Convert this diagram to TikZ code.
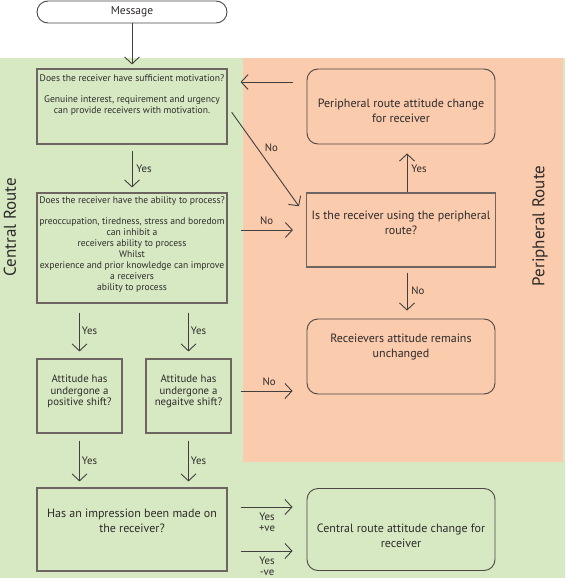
\documentclass[tikz,border=0pt]{standalone}
\usepackage{fontspec}
\setmainfont{PT Sans}
\usetikzlibrary{arrows.meta}
\definecolor{centralgreen}{HTML}{D7E9C3}
\definecolor{periphorange}{HTML}{FACBAD}
\definecolor{boxline}{HTML}{6E6562}
\definecolor{inkgray}{HTML}{2E2A2A}
\tikzstyle{question} = [rectangle, draw=boxline, line width=1.1pt, text=inkgray, align=center, inner sep=2pt]
\tikzstyle{terminal} = [rectangle, rounded corners=11pt, draw=boxline!70!black, line width=0.9pt, text=inkgray, align=center, inner sep=2pt]
\tikzstyle{arrow} = [draw=inkgray!90, line width=0.9pt, -{Straight Barb[length=7pt,width=15pt]}]
\tikzstyle{lbl} = [text=inkgray, font=\fontsize{10.8}{11}\selectfont, inner sep=2pt, align=center]
\tikzstyle{route} = [text=inkgray, font=\fontsize{17}{20}\selectfont, rotate=90]

\begin{document}
\begin{tikzpicture}[x=1pt, y=-1pt]
\useasboundingbox (0,0) rectangle (565,578);

%% BACKGROUND

\fill[centralgreen] (0,58) rectangle (565,578);
\fill[periphorange] (243,58) rectangle (563,462);
\node (central_label) [route] at (10,227) {Central Route};
\node (periph_label) [route] at (540,226) {Peripheral Route};

%% NODES

\node (msg) [terminal, minimum width=190pt, minimum height=22pt, font=\fontsize{11.5}{13}\selectfont] at (132,12) {Message};
\node (motiv) [question, below of=msg, node distance=94.5pt, minimum width=190pt, minimum height=75pt, text depth=25pt, font=\fontsize{9.6}{11}\selectfont] {Does the receiver have sufficient motivation?\\[10pt]Genuine interest, requirement and urgency\\can provide receivers with motivation.};
\node (ability) [question, below of=motiv, node distance=141.5pt, minimum width=190pt, minimum height=110pt, text depth=8pt, font=\fontsize{9.6}{11}\selectfont] {Does the receiver have the ability to process?\\[10pt]preoccupation, tiredness, stress and boredom\\can inhibit a\\receivers ability to process\\Whilst\\experience and prior knowledge can improve\\a receivers\\ability to process};
\node (pos) [question, below of=ability, node distance=148pt, xshift=-52.5pt, minimum width=85pt, minimum height=74pt, text depth=11pt, font=\fontsize{10.8}{11.5}\selectfont] {Attitude has\\undergone a\\positive shift?};
\node (neg) [question, below of=ability, node distance=148pt, xshift=56.5pt, minimum width=85pt, minimum height=74pt, text depth=11pt, font=\fontsize{10.8}{11.5}\selectfont] {Attitude has\\undergone a\\negaitve shift?};
\node (impress) [question, below of=ability, node distance=281.5pt, minimum width=190pt, minimum height=83pt, text depth=18pt, font=\fontsize{12}{15}\selectfont] {Has an impression been made on\\the receiver?};

\node (periph) [terminal, right of=motiv, node distance=269pt, minimum width=188pt, minimum height=75pt, font=\fontsize{12}{15}\selectfont] {\rule{0pt}{17pt}Peripheral route attitude change\\for receiver};
\node (usingp) [question, right of=ability, node distance=269pt, yshift=18pt, minimum width=189pt, minimum height=74pt, text depth=14pt, font=\fontsize{12}{15}\selectfont] {Is the receiver using the peripheral\\route?};
\node (unchanged) [terminal, below of=usingp, node distance=126.5pt, minimum width=188pt, minimum height=75pt, text depth=22pt, font=\fontsize{12}{15}\selectfont] {Receievers attitude remains\\unchanged};
\node (central) [terminal, right of=impress, node distance=269pt, minimum width=188pt, minimum height=82pt, font=\fontsize{12}{15}\selectfont] {\rule{0pt}{21pt}Central route attitude change for\\receiver};

%% ARROWS

\draw [arrow, shorten >=4pt] (msg) -- (motiv);
\draw [arrow, shorten <=6pt, shorten >=5pt] (motiv) -- node[lbl, right=2pt] {Yes} (ability);
\draw [arrow, shorten <=9pt, shorten >=7pt] (ability.south -| pos) -- node[lbl, right=0pt] {Yes} (pos);
\draw [arrow, shorten <=9pt, shorten >=7pt] (ability.south -| neg) -- node[lbl, right=0pt] {Yes} (neg);
\draw [arrow, shorten <=7pt, shorten >=6pt] (pos) -- node[lbl, right=0pt] {Yes} (pos |- impress.north);
\draw [arrow, shorten <=7pt, shorten >=6pt] (neg) -- node[lbl, right=0pt] {Yes} (neg |- impress.north);

\draw [arrow, shorten <=7pt, shorten >=12pt] (motiv.east) -- node[lbl, pos=0.38, right=5pt] {No} ([yshift=14pt]usingp.west);
\draw [arrow, shorten <=13pt, shorten >=13pt] (usingp.west -| ability.east) -- node[lbl, above=3pt] {No} (usingp.west);
\draw [arrow, shorten <=9pt, shorten >=14pt] ([yshift=5pt]neg.east) -- node[lbl, above=3pt] {No} ([yshift=5pt]neg.east -| unchanged.west);
\draw [arrow, shorten <=14pt, shorten >=13pt] ([yshift=24.5pt]periph.west) -- ([yshift=24.5pt]periph.west -| motiv.east);

\draw [arrow, shorten >=9pt] ([xshift=6pt]usingp.north) -- node[lbl, pos=0.5, right=2pt] {Yes} ([xshift=6pt]periph.south);
\draw [arrow, shorten <=5pt, shorten >=8pt] ([xshift=6pt]usingp.south) -- node[lbl, pos=0.45, right=2pt] {No} ([xshift=6pt]unchanged.north);

\draw [arrow, shorten <=13pt, shorten >=14pt] ([yshift=22.5pt]impress.east) -- node[lbl, below=3pt] {Yes\\+ve} ([yshift=22.5pt]impress.east -| central.west);
\draw [arrow, shorten <=13pt, shorten >=14pt] ([yshift=-21.5pt]impress.east) -- node[lbl, below=3pt] {Yes\\-ve} ([yshift=-21.5pt]impress.east -| central.west);

\end{tikzpicture}
\end{document}
